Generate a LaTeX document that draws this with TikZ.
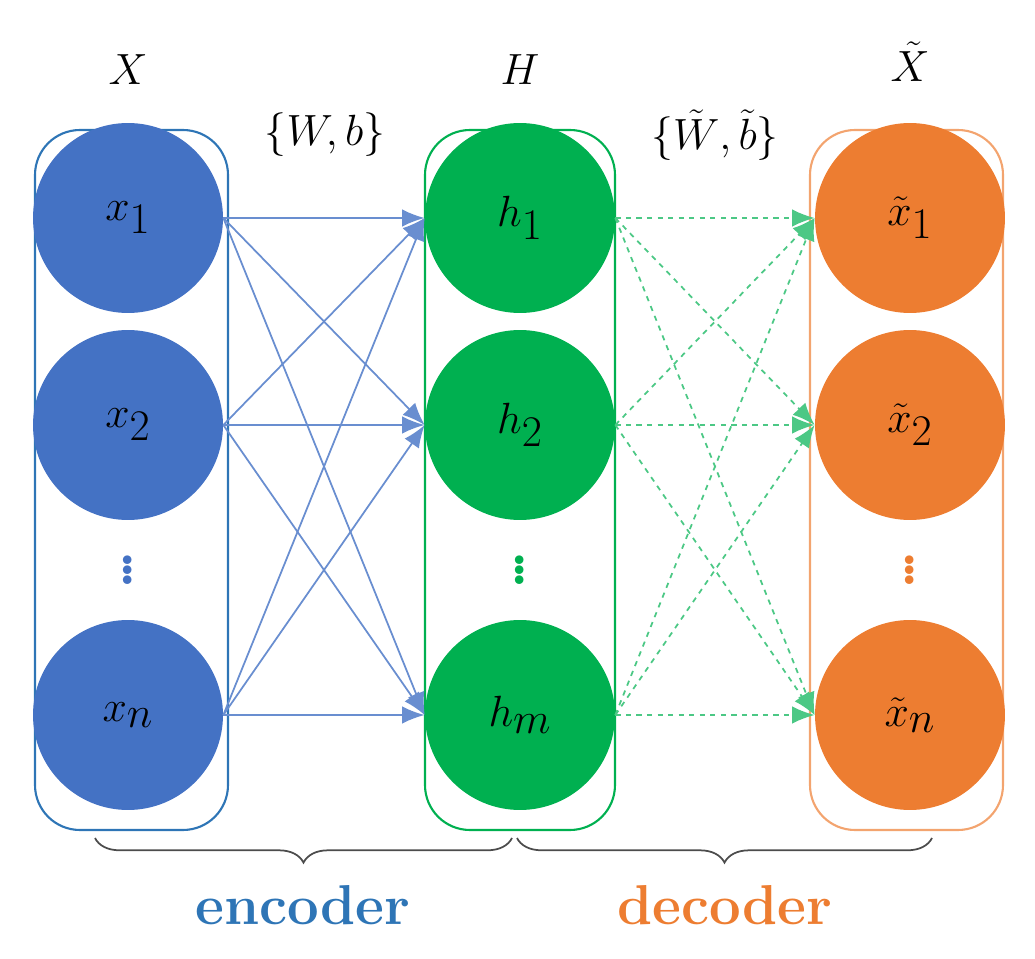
\documentclass[tikz,border=0pt]{standalone}
\usepackage{amsmath}
\usetikzlibrary{arrows.meta,decorations.pathreplacing}
\definecolor{encblue}{HTML}{4472C4}
\definecolor{boxblue}{HTML}{2E75B6}
\definecolor{hidgreen}{HTML}{00B050}
\definecolor{decorange}{HTML}{ED7D31}
\tikzset{
  unit/.style={circle,minimum size=3.8cm,inner sep=0pt,font=\fontsize{46}{52}\selectfont},
  layer/.style={rounded corners=0.9cm,line width=1.2pt},
  enc/.style={encblue!80,line width=1pt,-{Latex[length=0.45cm,width=0.35cm]}},
  dec/.style={hidgreen!70,line width=1pt,dashed,-{Latex[length=0.45cm,width=0.35cm]}},
  lbl/.style={font=\fontsize{34}{40}\selectfont},
}
\begin{document}
\begin{tikzpicture}[x=0.02cm,y=-0.02cm]
\useasboundingbox (0,0) rectangle (1035,959);

% layer boxes
\draw[layer,boxblue] (35,130) rectangle (228,830);
\draw[layer,hidgreen] (425,130) rectangle (615,830);
\draw[layer,decorange!70] (810,130) rectangle (1003,830);

% units
\foreach \nm/\i/\y in {1/1/218,2/2/425,n/n/715}{
  \node[unit,fill=encblue] (x\nm) at (128,\y) {$x_{\i}$};
  \node[unit,fill=decorange] (t\nm) at (910,\y) {$\tilde{x}_{\i}$};
}
\foreach \nm/\i/\y in {1/1/218,2/2/425,m/m/715}
  \node[unit,fill=hidgreen] (h\nm) at (520,\y) {$h_{\i}$};

\node[encblue,font=\fontsize{60}{60}\selectfont] (dx) at (128,565) {$\vdots$};
\node[hidgreen,font=\fontsize{60}{60}\selectfont] (dh) at (520,565) {$\vdots$};
\node[decorange,font=\fontsize{60}{60}\selectfont] (dt) at (910,565) {$\vdots$};

% connections
\foreach \a in {1,2,n}
  \foreach \b in {1,2,m}
    \draw[enc] (x\a.east) -- (h\b.west);
\foreach \a in {1,2,m}
  \foreach \b in {1,2,n}
    \draw[dec] (h\a.east) -- (t\b.west);

% labels
\node[lbl] (lx) at (128,70) {$X$};
\node[lbl] (lh) at (520,70) {$H$};
\node[lbl] (lt) at (910,62) {$\tilde{X}$};
\node[lbl] (wb) at (325,135) {$\{W,b\}$};
\node[lbl] (wt) at (715,135) {$\{\tilde{W},\tilde{b}\}$};

% braces
\draw[decorate,decoration={brace,mirror,amplitude=14pt},line width=1pt,black!70]
  (95,838) -- (512,838) coordinate[midway] (be);
\draw[decorate,decoration={brace,mirror,amplitude=14pt},line width=1pt,black!70]
  (517,838) -- (932,838) coordinate[midway] (bd);
\node[boxblue,font=\fontsize{32}{38}\selectfont\bfseries] (enc) at (303,905) {encoder};
\node[decorange,font=\fontsize{32}{38}\selectfont\bfseries] (dec) at (725,905) {decoder};
\end{tikzpicture}
\end{document}
